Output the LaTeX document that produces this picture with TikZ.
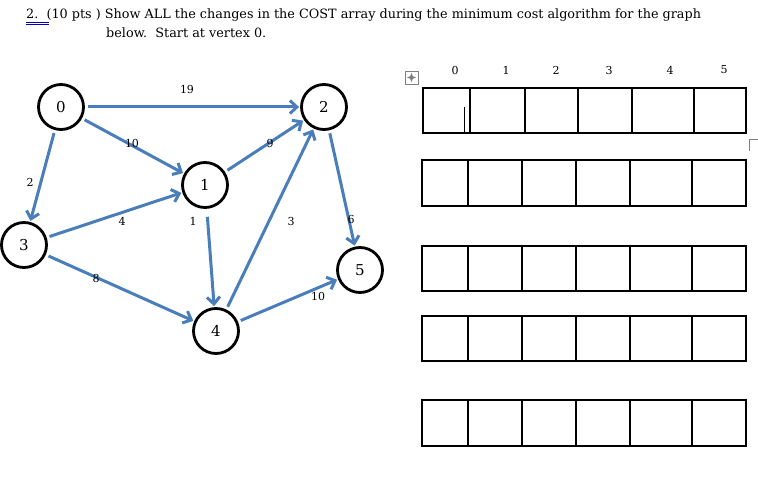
\documentclass[tikz,border=0pt]{standalone}
\usepackage{fontspec}
\setmainfont{DejaVu Serif}
\usetikzlibrary{arrows.meta}
\definecolor{eb}{RGB}{74,126,187}
\begin{document}
\begin{tikzpicture}[x=1pt,y=-1pt,
  vtx/.style={circle,draw,line width=2.8pt,minimum size=45pt,inner sep=0pt,font=\fontsize{15}{15}\selectfont},
  edge/.style={eb,line width=3pt,-{Straight Barb[length=7pt,width=13pt]},shorten <=3pt,shorten >=1pt},
  wl/.style={font=\fontsize{11}{11}\selectfont},
  cell/.style={draw,line width=2pt},
  hd/.style={font=\fontsize{11}{11}\selectfont}]
\useasboundingbox[fill=white] (0,0) rectangle (758,478);
\node[anchor=west,font=\fontsize{12.8}{12.8}\selectfont,inner sep=0pt] (t1) at (26,15) {2.\ \ (10 pts ) Show ALL the changes in the COST array during the minimum cost algorithm for the graph};
\draw[blue!70!black,line width=0.5pt] (26,22) -- (49,22) (26,24) -- (49,24);
\node[anchor=west,font=\fontsize{12.8}{12.8}\selectfont,inner sep=0pt] (t2) at (106,33) {below.\ \ Start at vertex 0.};
\node[vtx] (n0) at (61,107) {0};
\node[vtx] (n2) at (324,107) {2};
\node[vtx] (n1) at (205,185) {1};
\node[vtx] (n3) at (24,245) {3};
\node[vtx] (n5) at (360,270) {5};
\node[vtx] (n4) at (216,331) {4};
\draw[edge] (n0) -- (n2);
\draw[edge] (n0) -- (n1);
\draw[edge] (n0) -- (n3);
\draw[edge] (n3) -- (n1);
\draw[edge,shorten <=8pt] (n1) -- (n4);
\draw[edge] (n1) -- (n2);
\draw[edge] (n3) -- (n4);
\draw[edge] (n4) -- (n2);
\draw[edge] (n2) -- (n5);
\draw[edge] (n4) -- (n5);
\node[wl] (l19) at (187,89) {19};
\node[wl] (l10) at (132,143) {10};
\node[wl] (l2) at (30,182) {2};
\node[wl] (l4) at (122,221) {4};
\node[wl] (l1) at (193,221) {1};
\node[wl] (l9) at (270,143) {9};
\node[wl] (l8) at (96,278) {8};
\node[wl] (l3) at (291,221) {3};
\node[wl] (l6) at (351,219) {6};
\node[wl] (l10b) at (318,296) {10};
\foreach \c/\x in {0/455,1/506,2/556,3/609,4/670,5/724}{\node[hd] (h\c) at (\x,70) {\c};}
\foreach \a/\b in {423/470,470/525,525/578,578/632,632/694,694/746}{\draw[cell] (\a,88) rectangle (\b,133);}
\foreach \ya/\yb in {160/206,246/291,316/361,400/446}{
  \foreach \a/\b in {422/468,468/522,522/576,576/630,630/692,692/746}{\draw[cell] (\a,\ya) rectangle (\b,\yb);}}
\draw[line width=0.6pt] (464,107) -- (464,132);
\draw[gray,line width=0.5pt] (405,71) rectangle (418,84);
\draw[gray,line width=0.4pt,<->,>=Stealth] (407,77.5) -- (416,77.5);
\draw[gray,line width=0.4pt,<->,>=Stealth] (411.5,73) -- (411.5,82);
\draw[gray,line width=0.5pt] (749,139) -- (749,151) (749,139) -- (758,139);
\end{tikzpicture}
\end{document}
